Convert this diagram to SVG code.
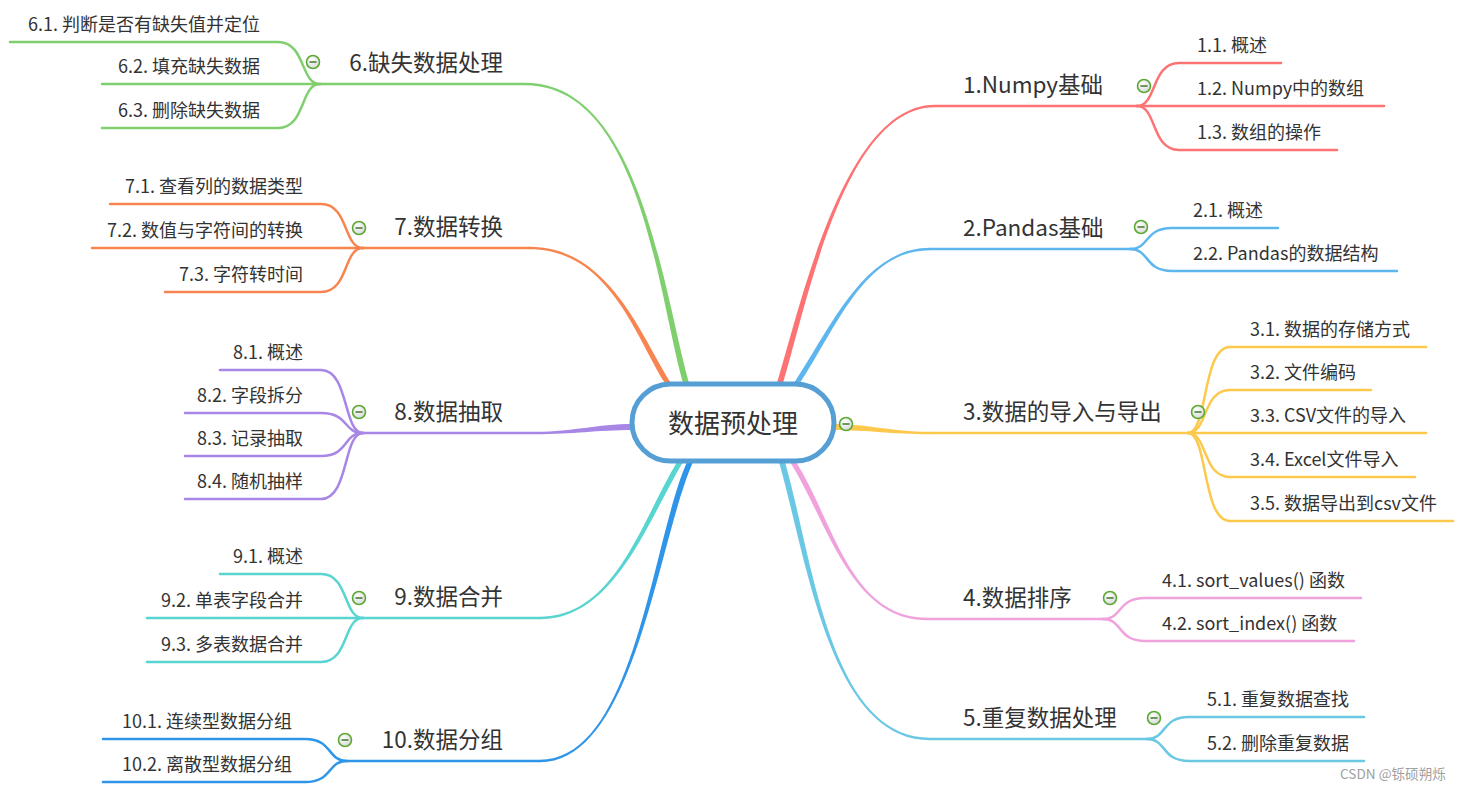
<svg xmlns="http://www.w3.org/2000/svg" width="1461" height="792" viewBox="0 0 1461 792">
<defs>
<style>
text{font-family:"Noto Sans CJK SC","Microsoft YaHei",sans-serif;fill:#333}
.m{font-size:22.5px}
.s{font-size:18px}
.r{text-anchor:end}
.ln{fill:none;stroke-width:2.5;stroke-linecap:round}
.c1{stroke:#fd7373}.f1{fill:#fd7373}
.c2{stroke:#5db6ee}.f2{fill:#5db6ee}
.c3{stroke:#fdc94d}.f3{fill:#fdc94d}
.c4{stroke:#f0a2dc}.f4{fill:#f0a2dc}
.c5{stroke:#6bc8e4}.f5{fill:#6bc8e4}
.c6{stroke:#80cf6e}.f6{fill:#80cf6e}
.c7{stroke:#f8844f}.f7{fill:#f8844f}
.c8{stroke:#a886e6}.f8{fill:#a886e6}
.c9{stroke:#58d4d1}.f9{fill:#58d4d1}
.c10{stroke:#2f95e9}.f10{fill:#2f95e9}
</style>
<radialGradient id="ig" cx="0.4" cy="0.35" r="0.7">
<stop offset="0" stop-color="#ffffff"/>
<stop offset="1" stop-color="#d6d6d6"/>
</radialGradient>
<g id="col">
<circle r="6.5" fill="url(#ig)" stroke="#5aaa33" stroke-width="1.6"/>
<line x1="-3.5" y1="0" x2="3.5" y2="0" stroke="#4d7f36" stroke-width="1.6"/>
</g>
</defs>
<rect width="1461" height="792" fill="#ffffff"/>

<g id="connectors">
<path class="f1" d="M 783,383 C 808,300 845,107.25 935,107.25 L 935,104.75 C 845,104.75 802,300 777,383 Z"/>
<path class="f2" d="M 800,383 C 838,325 865,250.25 930,250.25 L 930,247.75 C 865,247.75 832,325 794,383 Z"/>
<path class="f3" d="M 832,424 C 870,424 890,431.75 930,431.75 L 930,434.25 C 890,434.25 870,430 832,430 Z"/>
<path class="f4" d="M 796,462 C 833,520 850,617.75 927,617.75 L 927,620.25 C 850,620.25 827,520 790,462 Z"/>
<path class="f5" d="M 785,462 C 813,560 830,737.75 930,737.75 L 930,740.25 C 830,740.25 807,560 779,462 Z"/>
<path class="f6" d="M 689,383 C 663,290 640,82.75 525,82.75 L 525,85.25 C 640,85.25 657,290 683,383 Z"/>
<path class="f7" d="M 671,383 C 643,340 610,246.75 530,246.75 L 530,249.25 C 610,249.25 637,340 665,383 Z"/>
<path class="f8" d="M 634,424 C 595,424 575,431.75 535,431.75 L 535,434.25 C 575,434.25 595,430 634,430 Z"/>
<path class="f9" d="M 683,462 C 648,520 615,619.25 540,619.25 L 540,616.75 C 615,616.75 642,520 677,462 Z"/>
<path class="f10" d="M 693,462 C 658,540 635,762.25 540,762.25 L 540,759.75 C 635,759.75 652,540 687,462 Z"/>
<path class="ln c1" d="M 935,106 H 1137"/>
<path class="ln c2" d="M 930,249 H 1130"/>
<path class="ln c3" d="M 930,433 H 1188"/>
<path class="ln c4" d="M 927,619 H 1103"/>
<path class="ln c5" d="M 930,739 H 1147"/>
<path class="ln c6" d="M 525,84 H 320"/>
<path class="ln c7" d="M 530,248 H 363"/>
<path class="ln c8" d="M 535,433 H 363"/>
<path class="ln c9" d="M 540,618 H 363"/>
<path class="ln c10" d="M 540,761 H 347"/>
<path class="ln c1" d="M 1137,106 C 1157,106 1151,63 1179,63 H 1281"/>
<path class="ln c1" d="M 1137,106 H 1384"/>
<path class="ln c1" d="M 1137,106 C 1157,106 1151,150 1179,150 H 1337"/>
<path class="ln c2" d="M 1130,249 C 1150,249 1144,228 1172,228 H 1278"/>
<path class="ln c2" d="M 1130,249 C 1150,249 1144,271 1172,271 H 1397"/>
<path class="ln c3" d="M 1188,433 C 1208,433 1202,347 1230,347 H 1426"/>
<path class="ln c3" d="M 1188,433 C 1208,433 1202,390 1230,390 H 1371"/>
<path class="ln c3" d="M 1188,433 H 1426"/>
<path class="ln c3" d="M 1188,433 C 1208,433 1202,477 1230,477 H 1415"/>
<path class="ln c3" d="M 1188,433 C 1208,433 1202,521 1230,521 H 1453"/>
<path class="ln c4" d="M 1103,619 C 1123,619 1117,598 1145,598 H 1361"/>
<path class="ln c4" d="M 1103,619 C 1123,619 1117,641 1145,641 H 1354"/>
<path class="ln c5" d="M 1147,739 C 1167,739 1161,717 1189,717 H 1364"/>
<path class="ln c5" d="M 1147,739 C 1167,739 1161,761 1189,761 H 1364"/>
<path class="ln c6" d="M 320,84 C 300,84 306,42 278,42 H 10"/>
<path class="ln c6" d="M 320,84 H 102"/>
<path class="ln c6" d="M 320,84 C 300,84 306,128 278,128 H 102"/>
<path class="ln c7" d="M 363,248 C 343,248 349,204 321,204 H 110"/>
<path class="ln c7" d="M 363,248 H 92"/>
<path class="ln c7" d="M 363,248 C 343,248 349,292 321,292 H 165"/>
<path class="ln c8" d="M 363,433 C 343,433 349,370 321,370 H 220"/>
<path class="ln c8" d="M 363,433 C 343,433 349,413 321,413 H 185"/>
<path class="ln c8" d="M 363,433 C 343,433 349,456 321,456 H 185"/>
<path class="ln c8" d="M 363,433 C 343,433 349,499 321,499 H 185"/>
<path class="ln c9" d="M 363,618 C 343,618 349,574 321,574 H 220"/>
<path class="ln c9" d="M 363,618 H 147"/>
<path class="ln c9" d="M 363,618 C 343,618 349,662 321,662 H 147"/>
<path class="ln c10" d="M 347,761 C 327,761 333,739 305,739 H 103"/>
<path class="ln c10" d="M 347,761 C 327,761 333,782 305,782 H 103"/>
</g>

<g id="root">
<rect x="632" y="384" width="202" height="77" rx="38.5" fill="#ffffff" stroke="#559fd4" stroke-width="5"/>
<text x="733" y="433" text-anchor="middle" style="font-size:26px">数据预处理</text>
<use href="#col" x="846" y="424"/>
</g>

<g id="t1"><text class="m" x="963" y="93">1.Numpy基础</text><use href="#col" x="1144" y="86"/></g>
<g id="t1-1"><text class="s" x="1197" y="52">1.1. 概述</text></g>
<g id="t1-2"><text class="s" x="1197" y="95">1.2. Numpy中的数组</text></g>
<g id="t1-3"><text class="s" x="1197" y="139">1.3. 数组的操作</text></g>

<g id="t2"><text class="m" x="963" y="236">2.Pandas基础</text><use href="#col" x="1141" y="227"/></g>
<g id="t2-1"><text class="s" x="1193" y="217">2.1. 概述</text></g>
<g id="t2-2"><text class="s" x="1193" y="260">2.2. Pandas的数据结构</text></g>

<g id="t3"><text class="m" x="963" y="420">3.数据的导入与导出</text><use href="#col" x="1198" y="412"/></g>
<g id="t3-1"><text class="s" x="1250" y="336">3.1. 数据的存储方式</text></g>
<g id="t3-2"><text class="s" x="1250" y="379">3.2. 文件编码</text></g>
<g id="t3-3"><text class="s" x="1250" y="422">3.3. CSV文件的导入</text></g>
<g id="t3-4"><text class="s" x="1250" y="466">3.4. Excel文件导入</text></g>
<g id="t3-5"><text class="s" x="1250" y="510">3.5. 数据导出到csv文件</text></g>

<g id="t4"><text class="m" x="963" y="606">4.数据排序</text><use href="#col" x="1110" y="598"/></g>
<g id="t4-1"><text class="s" x="1162" y="587">4.1. sort_values() 函数</text></g>
<g id="t4-2"><text class="s" x="1162" y="630">4.2. sort_index() 函数</text></g>

<g id="t5"><text class="m" x="963" y="726">5.重复数据处理</text><use href="#col" x="1154" y="718"/></g>
<g id="t5-1"><text class="s" x="1207" y="706">5.1. 重复数据查找</text></g>
<g id="t5-2"><text class="s" x="1207" y="750">5.2. 删除重复数据</text></g>

<g id="t6"><text class="m r" x="503" y="71">6.缺失数据处理</text><use href="#col" x="313" y="62"/></g>
<g id="t6-1"><text class="s r" x="260" y="31">6.1. 判断是否有缺失值并定位</text></g>
<g id="t6-2"><text class="s r" x="260" y="73">6.2. 填充缺失数据</text></g>
<g id="t6-3"><text class="s r" x="260" y="117">6.3. 删除缺失数据</text></g>

<g id="t7"><text class="m r" x="503" y="235">7.数据转换</text><use href="#col" x="359" y="228"/></g>
<g id="t7-1"><text class="s r" x="303" y="193">7.1. 查看列的数据类型</text></g>
<g id="t7-2"><text class="s r" x="303" y="237">7.2. 数值与字符间的转换</text></g>
<g id="t7-3"><text class="s r" x="303" y="281">7.3. 字符转时间</text></g>

<g id="t8"><text class="m r" x="503" y="420">8.数据抽取</text><use href="#col" x="359" y="412"/></g>
<g id="t8-1"><text class="s r" x="303" y="359">8.1. 概述</text></g>
<g id="t8-2"><text class="s r" x="303" y="402">8.2. 字段拆分</text></g>
<g id="t8-3"><text class="s r" x="303" y="445">8.3. 记录抽取</text></g>
<g id="t8-4"><text class="s r" x="303" y="488">8.4. 随机抽样</text></g>

<g id="t9"><text class="m r" x="503" y="605">9.数据合并</text><use href="#col" x="359" y="598"/></g>
<g id="t9-1"><text class="s r" x="303" y="563">9.1. 概述</text></g>
<g id="t9-2"><text class="s r" x="303" y="607">9.2. 单表字段合并</text></g>
<g id="t9-3"><text class="s r" x="303" y="651">9.3. 多表数据合并</text></g>

<g id="t10"><text class="m r" x="503" y="748">10.数据分组</text><use href="#col" x="345" y="740"/></g>
<g id="t10-1"><text class="s r" x="292" y="728">10.1. 连续型数据分组</text></g>
<g id="t10-2"><text class="s r" x="292" y="771">10.2. 离散型数据分组</text></g>

<text x="1340" y="779" style="font-size:13.6px;fill:#a0a0a0">CSDN @铄硕朔烁</text>
</svg>
